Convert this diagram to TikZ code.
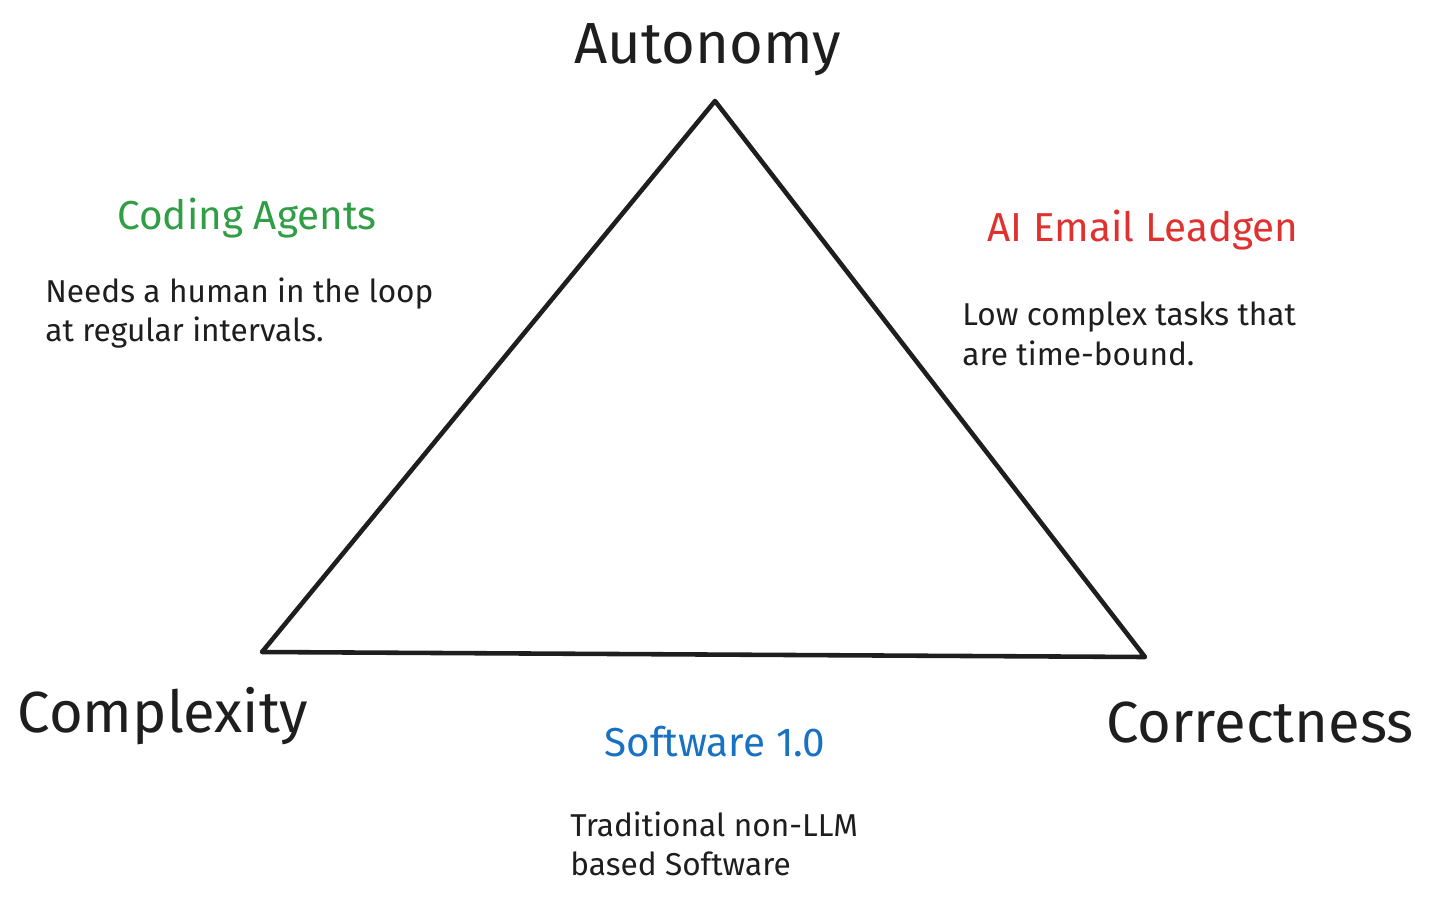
\documentclass[tikz,border=0pt]{standalone}
\usepackage{fontspec}
\setmainfont{Fira Sans}
\definecolor{ink}{HTML}{1E1E1E}
\definecolor{xgreen}{HTML}{2F9E44}
\definecolor{xred}{HTML}{E03131}
\definecolor{xblue}{HTML}{1971C2}
\begin{document}
\begin{tikzpicture}[x=0.02cm,y=-0.02cm,
  big/.style={font=\fontsize{33}{38}\selectfont, text=ink},
  head/.style={font=\fontsize{23}{27}\selectfont},
  body/.style={font=\fontsize{18}{22.5}\selectfont, text=ink, align=left, anchor=west, inner sep=0pt},
  edge/.style={draw=ink, line width=2.6pt, line join=round, line cap=round}]
\useasboundingbox (0,0) rectangle (1442,906);
\coordinate (A) at (715,101);
\coordinate (B) at (262,652);
\coordinate (C) at (1145,657);
\draw[edge] (A) -- (B) -- (C) -- cycle;
\node[big] (aut) at (708,50) {Autonomy};
\node[big] (cpx) at (163,716) {Complexity};
\node[big] (cor) at (1260,723) {Correctness};
\node[head, text=xgreen] (ca) at (247,218) {Coding Agents};
\node[head, text=xred] (ai) at (1143,230) {AI Email Leadgen};
\node[head, text=xblue] (sw) at (715,742) {Software 1.0};
\node[body] (t1) at (45,313) {Needs a human in the loop\\at regular intervals.};
\node[body] (t2) at (962,334) {Low complex tasks that\\are time-bound.};
\node[body] (t3) at (570,844) {Traditional non-LLM\\based Software};
\end{tikzpicture}
\end{document}
